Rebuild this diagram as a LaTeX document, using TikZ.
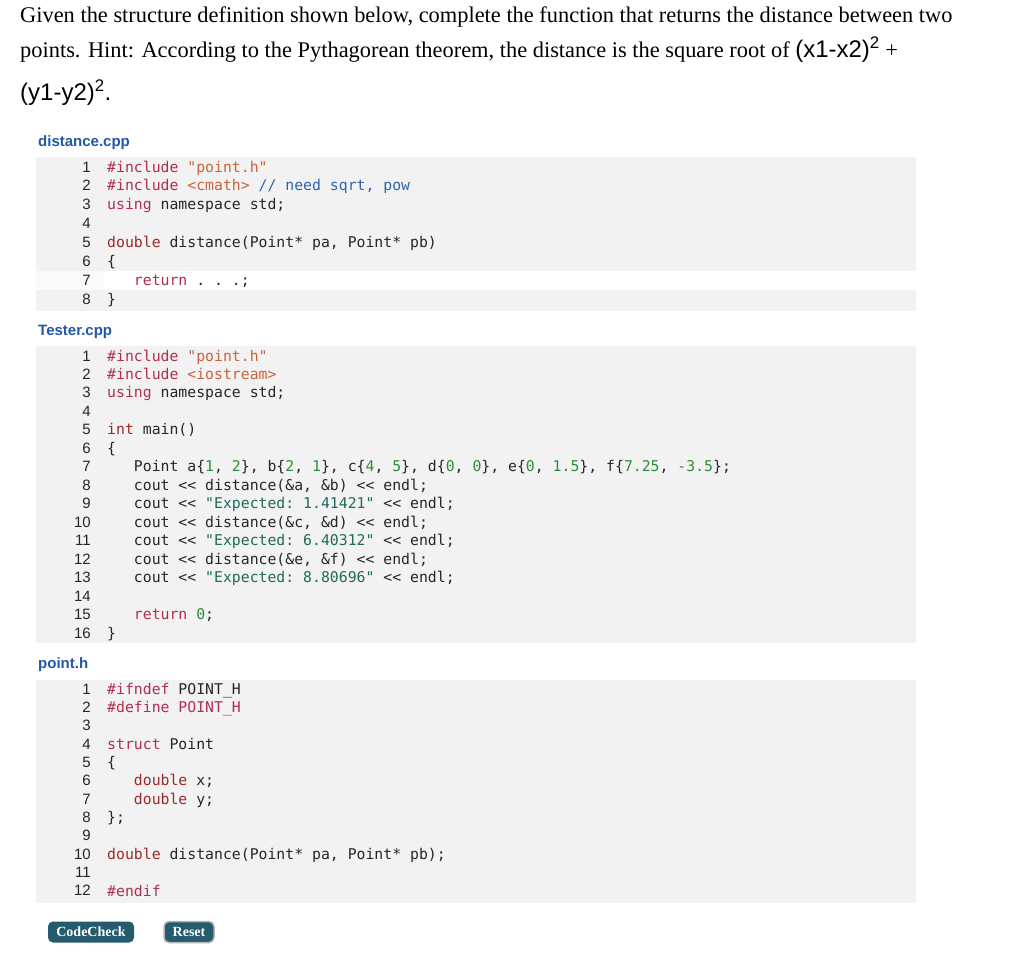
\documentclass[tikz,border=0pt]{standalone}
\usepackage{fontspec}
\setmainfont{Liberation Serif}
\setsansfont{Liberation Sans}
\setmonofont{DejaVu Sans Mono}
\definecolor{kwc}{HTML}{B22E4E}
\definecolor{stc}{HTML}{C8643A}
\definecolor{cmc}{HTML}{2F62AE}
\definecolor{nmc}{HTML}{2E8B3A}
\definecolor{exc}{HTML}{1F6A5A}
\definecolor{dbc}{HTML}{9A2A2A}
\definecolor{boxc}{HTML}{F2F2F2}
\definecolor{btnc}{HTML}{245B6E}
\definecolor{labc}{HTML}{2358A8}
\newcommand\kw[1]{\textcolor{kwc}{#1}}
\newcommand\st[1]{\textcolor{stc}{#1}}
\newcommand\cm[1]{\textcolor{cmc}{#1}}
\newcommand\nm[1]{\textcolor{nmc}{#1}}
\newcommand\ex[1]{\textcolor{exc}{#1}}
\newcommand\db[1]{\textcolor{dbc}{#1}}
\tikzset{
 codel/.style={anchor=base west,inner sep=0,font=\ttfamily\fontsize{14.8}{16}\selectfont,text=black!85},
 num/.style={anchor=base east,inner sep=0,font=\sffamily\fontsize{15}{16}\selectfont,text=black!85},
 ttl/.style={anchor=base west,inner sep=0,font=\fontsize{22.4}{24}\selectfont},
 lab/.style={anchor=base west,inner sep=0,font=\sffamily\bfseries\fontsize{15}{16}\selectfont,text=labc},
 codebox/.style={fill=boxc,draw=none},
 btn/.style={fill=btnc,text=white,rounded corners=5pt,font=\bfseries\fontsize{14}{15}\selectfont,inner sep=0,minimum height=21pt}
}
\begin{document}
\begin{tikzpicture}[x=1pt,y=-1pt]
\useasboundingbox[fill=white] (0,0) rectangle (1024,971);
% title
\node[ttl] (t1) at (20,23) {Given the structure definition shown below, complete the function that returns the distance between two};
\node[ttl] (t2) at (20,58) {points. Hint: According to the Pythagorean theorem, the distance is the square root of {\sffamily\fontsize{24}{26}\selectfont(x1-x2)\textsuperscript{2}} +};
\node[ttl] (t3) at (20,101) {\sffamily\fontsize{24}{26}\selectfont(y1-y2)\textsuperscript{2}.};
% distance.cpp
\node[lab] (l1) at (38,146) {distance.cpp};
\fill[codebox] (36,157) rectangle (916,311);
\fill[white] (104,271) rectangle (916,290);
\fill[white!60!boxc] (36,271) rectangle (104,290);
\foreach \i in {1,...,8}{\node[num] (da\i) at (91,{172+18.86*(\i-1)}) {\i};}
\node[codel] (d1) at (107,172) {\kw{\#include} \st{"point.h"}};
\node[codel] (d2) at (107,190.86) {\kw{\#include} \st{<cmath>} \cm{// need sqrt, pow}};
\node[codel] (d3) at (107,209.72) {\kw{using} namespace std;};
\node[codel] (d5) at (107,247.44) {\db{double} distance(Point* pa, Point* pb)};
\node[codel] (d6) at (107,266.3) {\{};
\node[codel] (d7) at (107,285.16) {\phantom{xxx}\kw{return} . . .;};
\node[codel] (d8) at (107,304.02) {\}};
% Tester.cpp
\node[lab] (l2) at (38,335) {Tester.cpp};
\fill[codebox] (36,346) rectangle (916,643);
\foreach \i in {1,...,16}{\node[num] (ta\i) at (91,{361+18.47*(\i-1)}) {\i};}
\node[codel] (e1) at (107,361) {\kw{\#include} \st{"point.h"}};
\node[codel] (e2) at (107,379.47) {\kw{\#include} \st{<iostream>}};
\node[codel] (e3) at (107,397.94) {\kw{using} namespace std;};
\node[codel] (e5) at (107,434.88) {\db{int} main()};
\node[codel] (e6) at (107,453.35) {\{};
\node[codel] (e7) at (107,471.82) {\phantom{xxx}Point a\{\nm{1}, \nm{2}\}, b\{\nm{2}, \nm{1}\}, c\{\nm{4}, \nm{5}\}, d\{\nm{0}, \nm{0}\}, e\{\nm{0}, \nm{1.5}\}, f\{\nm{7.25}, \nm{-3.5}\};};
\node[codel] (e8) at (107,490.29) {\phantom{xxx}cout << distance(\&a, \&b) << endl;};
\node[codel] (e9) at (107,508.76) {\phantom{xxx}cout << \ex{"Expected: 1.41421"} << endl;};
\node[codel] (e10) at (107,527.23) {\phantom{xxx}cout << distance(\&c, \&d) << endl;};
\node[codel] (e11) at (107,545.7) {\phantom{xxx}cout << \ex{"Expected: 6.40312"} << endl;};
\node[codel] (e12) at (107,564.17) {\phantom{xxx}cout << distance(\&e, \&f) << endl;};
\node[codel] (e13) at (107,582.64) {\phantom{xxx}cout << \ex{"Expected: 8.80696"} << endl;};
\node[codel] (e15) at (107,619.58) {\phantom{xxx}\kw{return} \nm{0};};
\node[codel] (e16) at (107,638.05) {\}};
% point.h
\node[lab] (l3) at (38,668) {point.h};
\fill[codebox] (36,680) rectangle (916,903);
\foreach \i in {1,...,12}{\node[num] (pa\i) at (91,{694+18.36*(\i-1)}) {\i};}
\node[codel] (p1) at (107,694) {\kw{\#ifndef} POINT\_H};
\node[codel] (p2) at (107,712.36) {\kw{\#define} \kw{POINT\_H}};
\node[codel] (p4) at (107,749.08) {\kw{struct} Point};
\node[codel] (p5) at (107,767.44) {\{};
\node[codel] (p6) at (107,785.8) {\phantom{xxx}\db{double} x;};
\node[codel] (p7) at (107,804.16) {\phantom{xxx}\db{double} y;};
\node[codel] (p8) at (107,822.52) {\};};
\node[codel] (p10) at (107,859.24) {\db{double} distance(Point* pa, Point* pb);};
\node[codel] (p12) at (107,896) {\kw{\#endif}};
% buttons
\node[btn,minimum width=86pt] (b1) at (91,932) {CodeCheck};
\node[btn,minimum width=50pt,draw=black!30,line width=1.5pt] (b2) at (189,932) {Reset};
\end{tikzpicture}
\end{document}
